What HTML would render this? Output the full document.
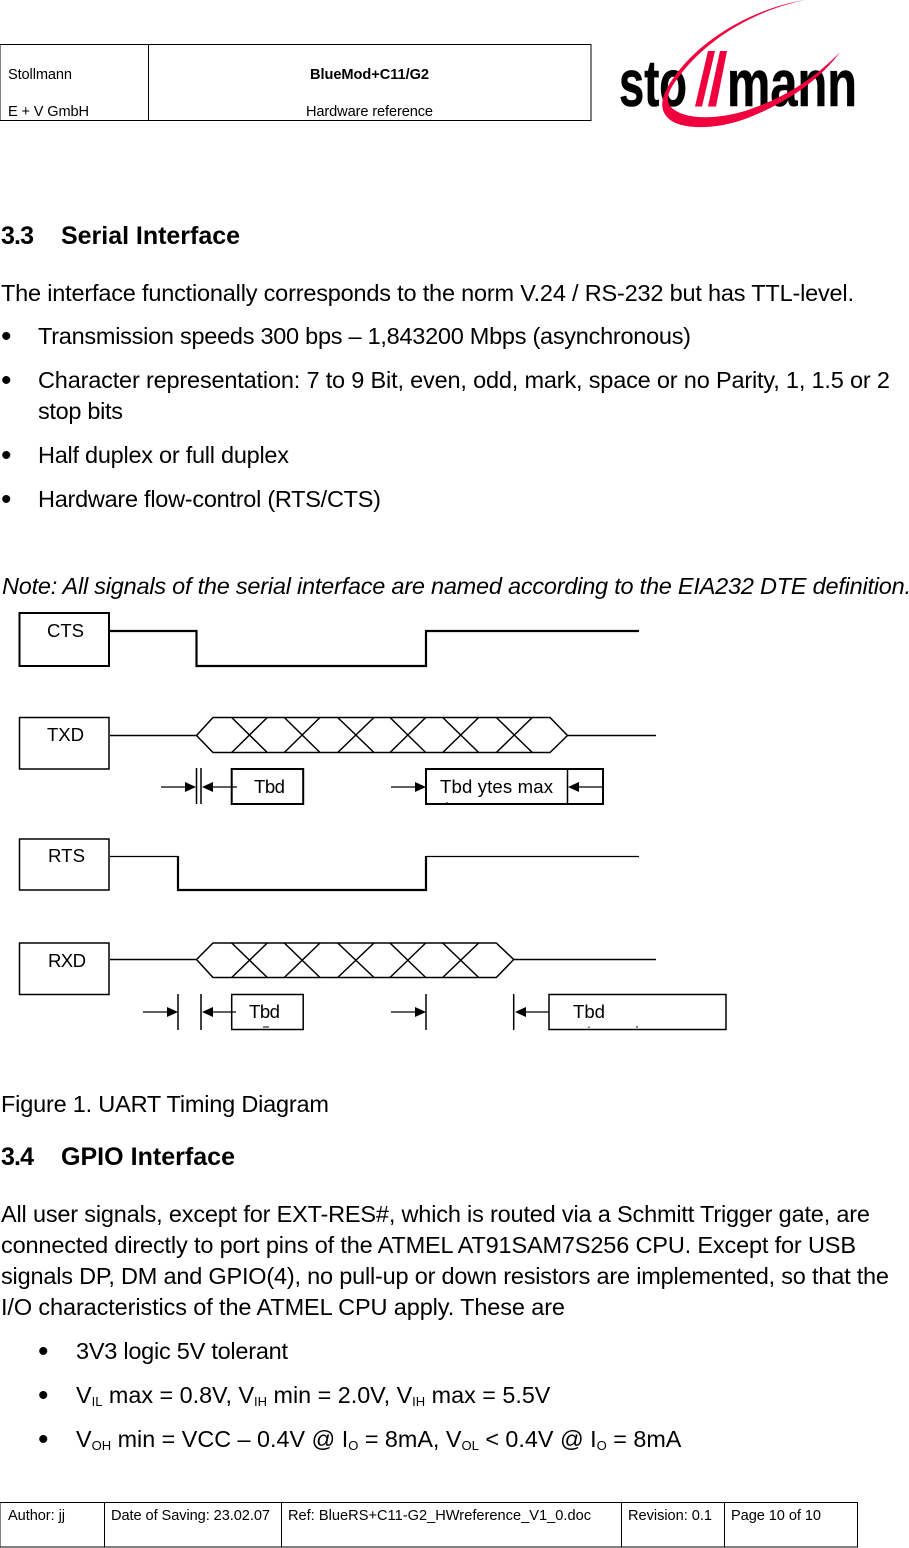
<!DOCTYPE html>
<html><head><meta charset="utf-8"><style>
html,body{margin:0;padding:0;background:#fff;width:909px;height:1548px;overflow:hidden}
svg{display:block}
text{font-family:"Liberation Sans",sans-serif;fill:#000}
.b{font-size:23.5px}.n{font-size:23.35px}.h{font-size:25px;font-weight:bold}.s{font-size:14.6px}.d{font-size:18.6px}
.u{font-size:30px}
.k{fill:none;stroke:#000;stroke-width:1.5}.m{fill:none;stroke:#000;stroke-width:2}.t{fill:none;stroke:#000;stroke-width:2.2}
.l{fill:none;stroke:#000;stroke-width:1.2}
.a{fill:#000;stroke:none}
.g{font-size:66px;font-weight:bold;stroke:#000;stroke-width:.6}
</style></head><body>
<svg width="909" height="1548" viewBox="0 0 909 1548" xmlns="http://www.w3.org/2000/svg">
<rect x="0" y="44.500" width="591" height="76" fill="none" stroke="#000"/>
<path d="M148.500 44V121" stroke="#000"/>
<text class="s" x="8" y="79" textLength="64">Stollmann</text>
<text class="s" x="8" y="116" textLength="81">E + V GmbH</text>
<text class="s" x="310" y="79" font-weight="bold" textLength="119">BlueMod+C11/G2</text>
<text class="s" x="306" y="116" textLength="127">Hardware reference</text>

<text class="g" x="619" y="106" textLength="68" lengthAdjust="spacingAndGlyphs">sto</text>
<text class="g" x="727" y="106" textLength="130" lengthAdjust="spacingAndGlyphs">mann</text>
<path fill="#f0003c" d="M695 106.500H702L715 51H708ZM708 106.500H716L727 51H720Z"/>
<path fill="#f0003c" d="M805 0C755 8 700 38 672 80C662 95 658 108 668 118C680 130 715 130 745 119C785 104 820 80 840 52C815 78 785 98 745 111C715 120 682 120 670 106C665 98 670 88 678 78C705 40 755 10 805 0Z"/>

<text class="h" x="1" y="244" textLength="33">3.3</text>
<text class="h" x="61" y="244" textLength="179">Serial Interface</text>
<text class="b" x="1" y="301" textLength="853">The interface functionally corresponds to the norm V.24 / RS-232 but has TTL-level.</text>
<text class="u" x="1" y="346">•</text>
<text class="b" x="38" y="344" textLength="653">Transmission speeds 300 bps – 1,843200 Mbps (asynchronous)</text>
<text class="u" x="1" y="390">•</text>
<text class="b" x="38" y="388" textLength="852">Character representation: 7 to 9 Bit, even, odd, mark, space or no Parity, 1, 1.5 or 2</text>
<text class="b" x="38" y="419" textLength="85">stop bits</text>
<text class="u" x="1" y="465">•</text>
<text class="b" x="38" y="463" textLength="251">Half duplex or full duplex</text>
<text class="u" x="1" y="509">•</text>
<text class="b" x="38" y="507" textLength="343">Hardware flow-control (RTS/CTS)</text>
<text class="b" x="2" y="594" font-style="italic" textLength="909">Note: All signals of the serial interface are named according to the EIA232 DTE definition.</text>

<g class="k">
<rect x="19.500" y="613" width="89.500" height="53" stroke-width="2"/>
<rect x="19.500" y="717.500" width="89.500" height="51.500"/>
<rect x="19.500" y="839" width="89.500" height="51"/>
<rect x="19.500" y="943" width="89.500" height="51.500"/>
</g>
<rect class="m" x="231.700" y="769" width="71.500" height="35"/>
<rect class="m" x="426" y="769" width="177" height="35"/>
<rect class="k" x="231.700" y="994.500" width="71.500" height="35"/>
<rect class="k" x="549" y="994.500" width="177" height="35"/>
<path class="t" d="M110 631H196.500V666H426V631H639"/>
<path class="l" d="M110 856.500H178M426 856.500H639"/>
<path class="t" d="M178 856V890H426V856"/>
<path class="k" d="M110 735.500H196.500L213 717.500H550L567.500 735.500H656M196.500 735.500L213 752.500H550L567.500 735.500"/>
<path class="k" d="M231.700 717.500L267.300 752.500M267.300 717.500L231.700 752.500M284.300 717.500L320 752.500M320 717.500L284.300 752.500M337.700 717.500L374 752.500M374 717.500L337.700 752.500M390 717.500L425.700 752.500M425.700 717.500L390 752.500M442.700 717.500L478.700 752.500M478.700 717.500L442.700 752.500M496.300 717.500L532.300 752.500M532.300 717.500L496.300 752.500"/>
<path class="k" d="M110 959.500H196.500L213 943H496.300L513.700 959.500H656M196.500 959.500L213 977.500H496.300L513.700 959.500"/>
<path class="k" d="M231.700 943L267.300 977.500M267.300 943L231.700 977.500M284.300 943L320 977.500M320 943L284.300 977.500M337.700 943L374 977.500M374 943L337.700 977.500M390 943L425.700 977.500M425.700 943L390 977.500M442.700 943L478.700 977.500M478.700 943L442.700 977.500"/>
<path class="k" d="M196.500 768V804M201 768V804M567.500 769V804M178 994V1030M201 994V1030M426 994V1030M513.700 994V1030"/>
<path stroke="#000" stroke-width="1.300" fill="none" d="M161 787H190M208 787H237M391 787H420M574 787H603M143 1012H172M208 1012H236M391 1012H420M520 1012H549"/>
<path class="a" d="M196 787L185 782V792ZM202 787L213 782V792ZM426 787L415 782V792ZM568 787L579 782V792ZM178 1012L167 1007V1017ZM202 1012L213 1007V1017ZM426 1012L415 1007V1017ZM515 1012L526 1007V1017Z"/>
<path stroke="#000" d="M447 802V804M263 1027H269M589 1026.500V1028M636 1027H638" fill="none"/>
<text class="d" x="47" y="637" textLength="37">CTS</text>
<text class="d" x="47" y="741" textLength="37">TXD</text>
<text class="d" x="48" y="862" textLength="37">RTS</text>
<text class="d" x="48" y="967" textLength="38">RXD</text>
<text class="d" x="254" y="793" textLength="31">Tbd</text>
<text class="d" x="440" y="793" textLength="113">Tbd ytes max</text>
<text class="d" x="249" y="1018" textLength="31">Tbd</text>
<text class="d" x="573" y="1018" textLength="32">Tbd</text>

<text class="b" x="1" y="1112" textLength="328">Figure 1. UART Timing Diagram</text>
<text class="h" x="1" y="1165" textLength="33">3.4</text>
<text class="h" x="61" y="1165" textLength="174">GPIO Interface</text>
<text class="b" x="1" y="1222" textLength="869">All user signals, except for EXT-RES#, which is routed via a Schmitt Trigger gate, are</text>
<text class="b" x="1" y="1253" textLength="855">connected directly to port pins of the ATMEL AT91SAM7S256 CPU. Except for USB</text>
<text class="b" x="1" y="1284" textLength="888">signals DP, DM and GPIO(4), no pull-up or down resistors are implemented, so that the</text>
<text class="b" x="1" y="1315" textLength="564">I/O characteristics of the ATMEL CPU apply. These are</text>
<text class="u" x="38" y="1361">•</text>
<text class="b" x="76" y="1359" textLength="212">3V3 logic 5V tolerant</text>
<text class="u" x="38" y="1405">•</text>
<text class="n" x="76" y="1403">V<tspan font-size="13" dy="3">IL</tspan><tspan dy="-3"> max = 0.8V, V</tspan><tspan font-size="13" dy="3">IH</tspan><tspan dy="-3"> min = 2.0V, V</tspan><tspan font-size="13" dy="3">IH</tspan><tspan dy="-3"> max = 5.5V</tspan></text>
<text class="u" x="38" y="1449">•</text>
<text class="n" x="76" y="1447">V<tspan font-size="13" dy="3">OH</tspan><tspan dy="-3"> min = VCC – 0.4V @ I</tspan><tspan font-size="13" dy="3">O</tspan><tspan dy="-3"> = 8mA, V</tspan><tspan font-size="13" dy="3">OL</tspan><tspan dy="-3"> &lt; 0.4V @ I</tspan><tspan font-size="13" dy="3">O</tspan><tspan dy="-3"> = 8mA</tspan></text>

<rect x="0" y="1502.500" width="857.500" height="44.500" fill="none" stroke="#000"/>
<path d="M104.500 1502V1547M281.500 1502V1547M621.500 1502V1547M724.500 1502V1547" stroke="#000"/>
<text class="s" x="8" y="1520" textLength="57">Author: jj</text>
<text class="s" x="111" y="1520" textLength="159">Date of Saving: 23.02.07</text>
<text class="s" x="288" y="1520" textLength="303">Ref: BlueRS+C11-G2_HWreference_V1_0.doc</text>
<text class="s" x="628" y="1520" textLength="84">Revision: 0.1</text>
<text class="s" x="731" y="1520" textLength="90">Page 10 of 10</text>
</svg>
</body></html>
